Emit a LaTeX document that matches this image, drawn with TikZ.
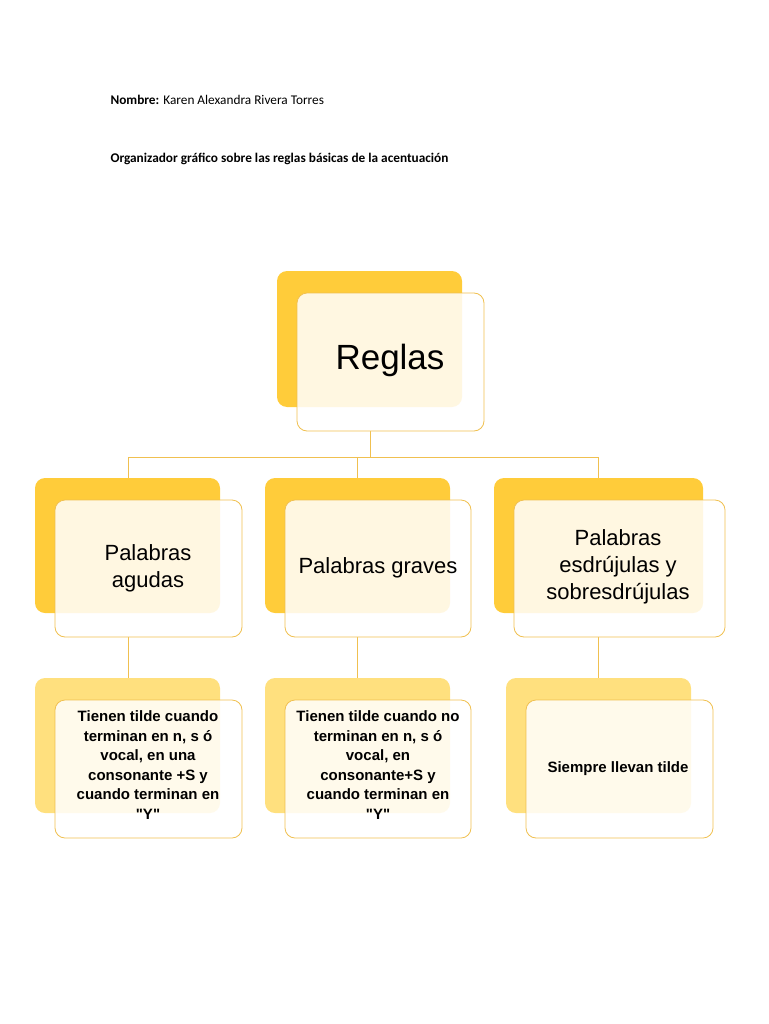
\documentclass[tikz,border=0pt]{standalone}
\usepackage{fontspec}
\setmainfont{Liberation Sans}[Ligatures=TeXOff]
\newfontfamily\hdr{Carlito}
\definecolor{ybk}{HTML}{FFCC3A}
\definecolor{ylt}{HTML}{FFE07E}
\definecolor{ybd}{HTML}{F0C050}
\begin{document}
\begin{tikzpicture}[x=1pt,y=-1pt,
  back/.style={fill=#1,rounded corners=10pt},
  front/.style={fill=white,fill opacity=0.85,text opacity=1,draw=ybd,line width=0.8pt,rounded corners=10pt},
  conn/.style={draw=ybd,line width=0.8pt}]
\useasboundingbox (0,0) rectangle (768,1024);
\node[anchor=base west,font=\hdr\fontsize{13.3}{15}\selectfont] (n1) at (107,105) {\textbf{Nombre:} Karen Alexandra Rivera Torres};
\node[anchor=base west,font=\hdr\fontsize{13.3}{15}\selectfont] (n2) at (107,163) {\textbf{Organizador gráfico sobre las reglas básicas de la acentuación}};
% connectors (drawn first)
\coordinate (j) at (370,457);
\draw[conn] (370,431) -- (j);
\draw[conn] (128,478) -- (128,457) -- (598,457) -- (598,478);
\draw[conn] (357,457) -- (357,478);
\draw[conn] (128,637) -- (128,678);
\draw[conn] (357,637) -- (357,678);
\draw[conn] (598,637) -- (598,678);
% Reglas
\fill[back=ybk] (277,271) rectangle (462,407);
\draw[front] (297,293) rectangle (484,431);
\node[font=\fontsize{35}{40}\selectfont] (r) at (390,360) {Reglas};
% level 2
\fill[back=ybk] (35,478) rectangle (220,613);
\draw[front] (55,500) rectangle (242,637);
\fill[back=ybk] (265,478) rectangle (450,613);
\draw[front] (285,500) rectangle (471,637);
\fill[back=ybk] (494,478) rectangle (703,613);
\draw[front] (514,500) rectangle (725,637);
\node[font=\fontsize{22}{27}\selectfont,align=center] (a) at (148,568) {Palabras\\agudas};
\node[font=\fontsize{22}{27}\selectfont,align=center] (g) at (378,568) {Palabras graves};
\node[font=\fontsize{22}{27}\selectfont,align=center] (e) at (618,567) {Palabras\\esdrújulas y\\sobresdrújulas};
% level 3
\fill[back=ylt] (35,678) rectangle (220,813);
\draw[front] (55,700) rectangle (242,838);
\fill[back=ylt] (265,678) rectangle (450,813);
\draw[front] (285,700) rectangle (471,838);
\fill[back=ylt] (506,678) rectangle (691,813);
\draw[front] (526,700) rectangle (713,838);
\node[font=\bfseries\fontsize{15}{19.5}\selectfont,align=center,inner sep=0] (ta) at (148,765) {Tienen tilde cuando\\terminan en n, s ó\\vocal, en una\\consonante +S y\\cuando terminan en\\"Y"};
\node[font=\bfseries\fontsize{15}{19.5}\selectfont,align=center,inner sep=0] (tg) at (378,765) {Tienen tilde cuando no\\terminan en n, s ó\\vocal, en\\consonante+S y\\cuando terminan en\\"Y"};
\node[font=\bfseries\fontsize{15}{19.5}\selectfont,align=center] (te) at (618,769) {Siempre llevan tilde};
\end{tikzpicture}
\end{document}
